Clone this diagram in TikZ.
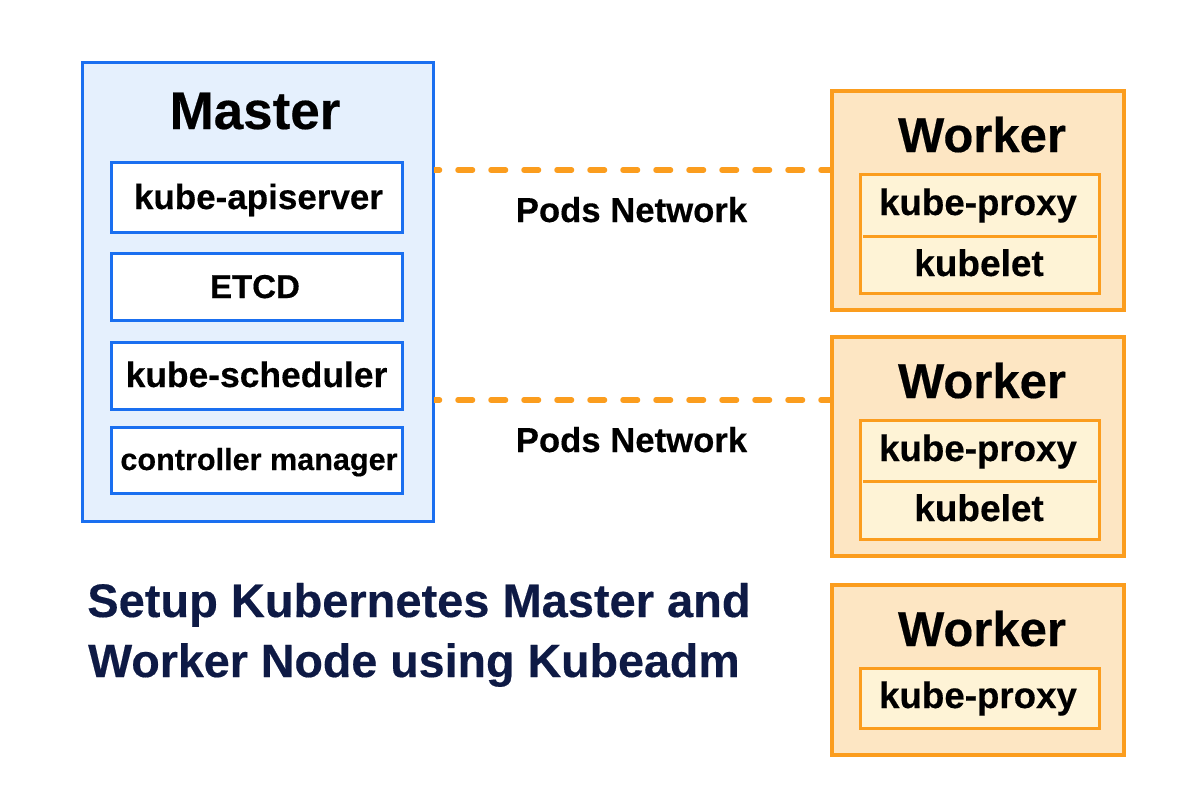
\documentclass[tikz,border=0pt]{standalone}
\usepackage{fontspec}
\setmainfont{Liberation Sans}[BoldFeatures={FakeBold=0.35}]
\definecolor{mblue}{HTML}{1A6FF0}
\definecolor{mfill}{HTML}{E5F0FD}
\definecolor{worange}{HTML}{FB9D1E}
\definecolor{wfill}{HTML}{FDE6C3}
\definecolor{ifill}{HTML}{FEF3D6}
\definecolor{navy}{HTML}{0E1A45}
\newcommand{\fsz}[1]{\fontsize{#1}{#1}\selectfont\bfseries}
\tikzset{
  x=1pt,y=-1pt,
  masterbox/.style={draw=mblue,line width=3pt,fill=mfill,inner sep=0pt,outer sep=0pt},
  compbox/.style={draw=mblue,line width=3pt,fill=white,inner sep=0pt,outer sep=0pt},
  workerbox/.style={draw=worange,line width=3.4pt,fill=wfill,inner sep=0pt,outer sep=0pt},
  innerbox/.style={draw=worange,line width=3pt,fill=ifill,inner sep=0pt,outer sep=0pt},
  divider/.style={draw=worange,line width=3pt},
  link/.style={draw=worange,line width=5.5pt,line cap=round,dash pattern=on 14.5pt off 18.5pt,dash phase=8pt},
  lbl/.style={inner sep=0pt,anchor=base,text=black},
}
\newcommand{\bx}[6]{\node[#2,minimum width=#5pt-#3pt,minimum height=#6pt-#4pt] (#1) at ({(#3+#5)/2},{(#4+#6)/2}) {};}
\begin{document}
\begin{tikzpicture}
\useasboundingbox (0,0) rectangle (1200,800);
\fill[white] (0,0) rectangle (1200,800);
\bx{master}{masterbox}{82.5}{62.5}{433}{521.5}
\bx{api}{compbox}{111.5}{162.5}{402}{232.5}
\bx{etcd}{compbox}{111.5}{253.5}{402}{320}
\bx{sched}{compbox}{111.5}{342.5}{402}{409.5}
\bx{ctrl}{compbox}{111.5}{427.5}{402}{493.5}
\node[lbl,font=\fsz{53}] (mt) at (255,129) {Master};
\node[lbl,font=\fsz{35}] (t1) at (258.5,209) {kube-apiserver};
\node[lbl,font=\fsz{33}] (t2) at (255,298) {ETCD};
\node[lbl,font=\fsz{35.4}] (t3) at (256.5,387) {kube-scheduler};
\node[lbl,font=\fsz{30.6}] (t4) at (259,470) {controller manager};
\bx{w1}{workerbox}{832}{91}{1124}{310}
\bx{i1}{innerbox}{860.5}{174.5}{1099.5}{293.5}
\coordinate (d1a) at (863,236);
\coordinate (d1b) at (1097,236);
\draw[divider] (d1a) -- (d1b);
\node[lbl,font=\fsz{49}] (w1t) at (982,152) {Worker};
\node[lbl,font=\fsz{36.7}] (p1) at (978,215) {kube-proxy};
\node[lbl,font=\fsz{37}] (k1) at (979,276) {kubelet};
\bx{w2}{workerbox}{832}{337}{1124}{556}
\bx{i2}{innerbox}{860.5}{420.5}{1099.5}{539.5}
\coordinate (d2a) at (863,481);
\coordinate (d2b) at (1097,481);
\draw[divider] (d2a) -- (d2b);
\node[lbl,font=\fsz{49}] (w2t) at (982,398) {Worker};
\node[lbl,font=\fsz{36.7}] (p2) at (978,461) {kube-proxy};
\node[lbl,font=\fsz{37}] (k2) at (979,521) {kubelet};
\bx{w3}{workerbox}{832}{585}{1124}{755}
\bx{i3}{innerbox}{860.5}{668.5}{1099.5}{728.5}
\node[lbl,font=\fsz{49}] (w3t) at (982,646) {Worker};
\node[lbl,font=\fsz{36.7}] (p3) at (978,708) {kube-proxy};
\begin{scope}
\clip (434,0) rectangle (832,800);
\draw[link] (master.east |- 0,170) -- (w1.west |- 0,170);
\draw[link] (master.east |- 0,400) -- (w2.west |- 0,400);
\end{scope}
\node[lbl,font=\fsz{34.7}] (n1) at (631.5,222) {Pods Network};
\node[lbl,font=\fsz{34.7}] (n2) at (631.5,452) {Pods Network};
\node[lbl,font=\fsz{47},text=navy] (h1) at (419,617) {Setup Kubernetes Master and};
\node[lbl,font=\fsz{46.6},text=navy] (h2) at (414,677) {Worker Node using Kubeadm};
\end{tikzpicture}
\end{document}
